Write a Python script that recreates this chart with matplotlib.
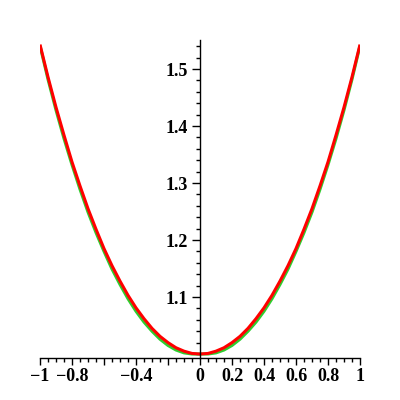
import numpy as np
import matplotlib
matplotlib.use("Agg")
import matplotlib.pyplot as plt
from matplotlib.ticker import MultipleLocator

# values, x from -1 to 1 in steps of 0.05
x_vals = [-1.0, -0.95, -0.9, -0.85, -0.8, -0.75, -0.7, -0.65, -0.6, -0.55, -0.5,
          -0.45, -0.4, -0.35, -0.3, -0.25, -0.2, -0.15, -0.1, -0.05, 0.0,
          0.05, 0.1, 0.15, 0.2, 0.25, 0.3, 0.35, 0.4, 0.45, 0.5,
          0.55, 0.6, 0.65, 0.7, 0.75, 0.8, 0.85, 0.9, 0.95, 1.0]
half_red = [1.000, 1.001, 1.005, 1.011, 1.020, 1.031, 1.045, 1.062, 1.081, 1.103,
            1.128, 1.155, 1.185, 1.219, 1.255, 1.295, 1.337, 1.384, 1.433, 1.486, 1.543]
half_green = [1.000, 1.000, 1.002, 1.007, 1.015, 1.026, 1.040, 1.056, 1.075, 1.097,
              1.122, 1.149, 1.180, 1.213, 1.249, 1.289, 1.332, 1.378, 1.428, 1.482, 1.541]
red_vals = half_red[:0:-1] + half_red
green_vals = half_green[:0:-1] + half_green

xtick_pos = [-1, -0.8, -0.6, -0.4, -0.2, 0, 0.2, 0.4, 0.6, 0.8, 1]
xtick_lab = ["\u22121", "\u22120.8", "", "\u22120.4", "", "0", "0.2", "0.4", "0.6", "0.8", "1"]
ytick_pos = [1.1, 1.2, 1.3, 1.4, 1.5]
ytick_lab = ["1.1", "1.2", "1.3", "1.4", "1.5"]

plt.rcParams['font.family'] = ['Liberation Serif', 'DejaVu Serif']

fig = plt.figure(figsize=(4, 4), dpi=100)
ax = fig.add_axes([0.1, 0.105, 0.8, 0.795])

ax.plot(x_vals, green_vals, color='#2ecc2e', lw=2.2, solid_capstyle='butt')
ax.plot(x_vals, red_vals, color='#ff0000', lw=2.2, solid_capstyle='butt')

ax.set_xlim(-1, 1)
ax.set_ylim(0.993, 1.551)

ax.spines['top'].set_visible(False)
ax.spines['right'].set_visible(False)
ax.spines['left'].set_position(('data', 0))
ax.spines['left'].set_linewidth(1)
ax.spines['bottom'].set_linewidth(1)

ax.set_xticks(xtick_pos)
ax.set_xticklabels(xtick_lab)
ax.xaxis.set_minor_locator(MultipleLocator(0.05))
ax.set_yticks(ytick_pos)
ax.set_yticklabels(ytick_lab)
ax.yaxis.set_minor_locator(MultipleLocator(0.02))

ax.tick_params(axis='x', which='major', direction='out', length=5, width=1, pad=2)
ax.tick_params(axis='x', which='minor', direction='out', length=3, width=1)
ax.tick_params(axis='y', which='major', direction='out', length=6, width=1, pad=3)
ax.tick_params(axis='y', which='minor', direction='out', length=3, width=1)

for lab in ax.get_xticklabels() + ax.get_yticklabels():
    lab.set_fontsize(13)
    lab.set_fontweight('bold')

fig.savefig("out.png", dpi=100)
